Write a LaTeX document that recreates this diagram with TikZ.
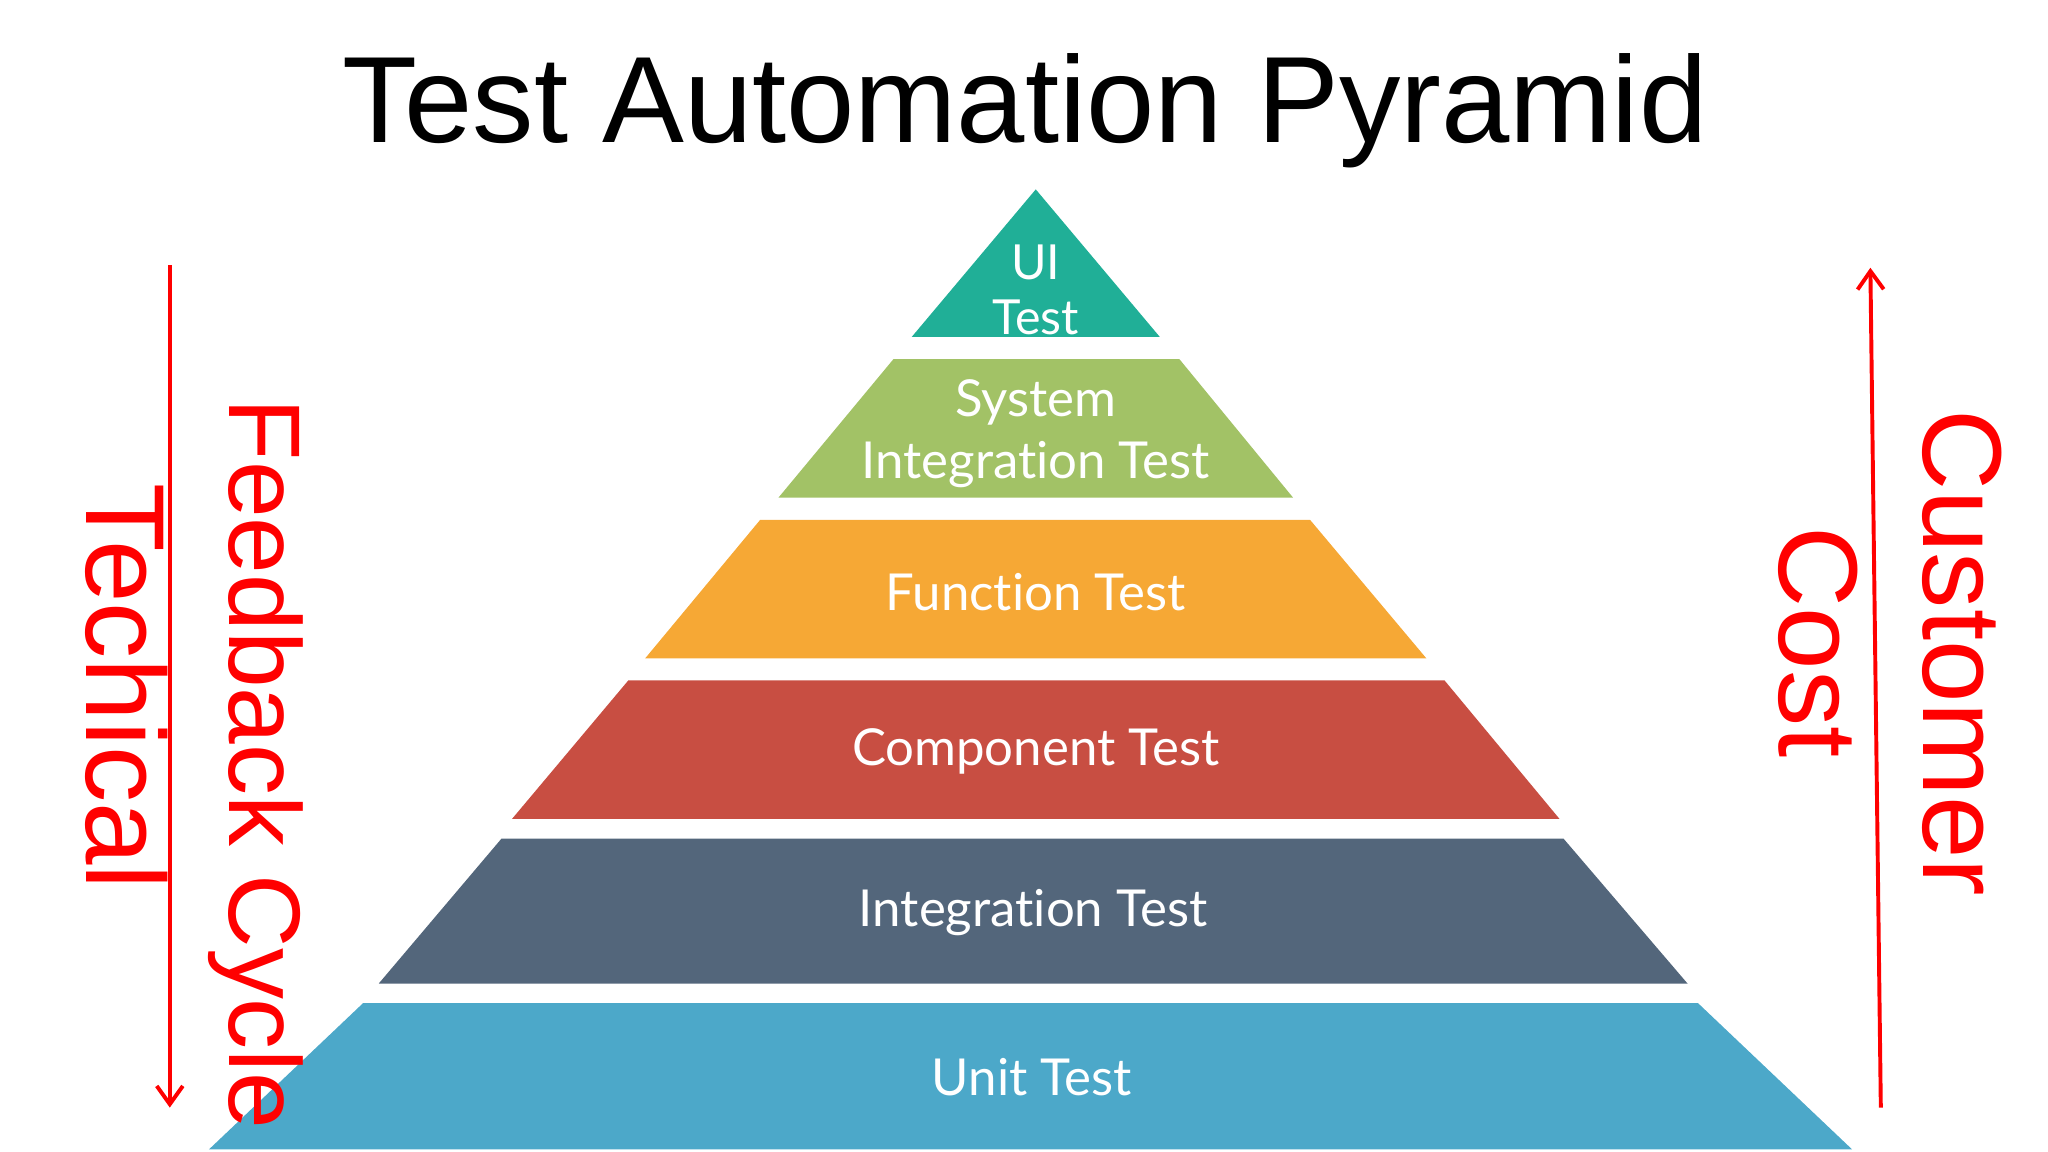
\documentclass[tikz,border=0pt]{standalone}
\usepackage{fontspec}
\setmainfont{Liberation Sans}
\newfontfamily\lab[Ligatures=NoCommon]{Lato}
\usetikzlibrary{arrows.meta}
\definecolor{cui}{HTML}{20AF97}
\definecolor{csys}{HTML}{A2C266}
\definecolor{cfun}{HTML}{F6A835}
\definecolor{ccomp}{HTML}{C84E42}
\definecolor{cint}{HTML}{53667B}
\definecolor{cunit}{HTML}{4CA8C9}
\definecolor{red1}{HTML}{FF0000}
\tikzset{lay/.style={text=white,font=\lab\fontsize{19.5}{24}\selectfont,align=center},
side/.style={text=red1,font=\fontsize{43}{47}\selectfont,rotate=-90,inner sep=0},
redarrow/.style={red1,line width=1.5pt,-{Straight Barb[length=7pt,width=10pt]}}}
\begin{document}
\begin{tikzpicture}[x=0.5pt,y=-0.5pt]
\useasboundingbox (0,0) rectangle (1568,882);
\fill[cui] (793,145) -- (888,258) -- (698,258) -- cycle;
\fill[csys] (684,275) -- (903,275) -- (990,381) -- (596,381) -- cycle;
\fill[cfun] (582,398) -- (1003,398) -- (1092,504) -- (494,504) -- cycle;
\fill[ccomp] (481,521) -- (1106,521) -- (1194,627) -- (392,627) -- cycle;
\fill[cint] (384,642) -- (1197,642) -- (1292,753) -- (290,753) -- cycle;
\fill[cunit] (278,768) -- (1300,768) -- (1418,880) -- (160,880) -- cycle;
\node (title) at (785,85) {\fontsize{47}{53}\selectfont Test Automation Pyramid};
\node[lay,font=\lab\fontsize{18.5}{21}\selectfont] (ui) at (793,222) {UI\\Test};
\node[lay] (sys) at (793,332) {System\\Integration Test};
\node[lay] (fun) at (793,453) {Function Test};
\node[lay] (comp) at (793,575) {Component Test};
\node[lay] (int) at (791,699) {Integration Test};
\node[lay] (unit) at (790,825) {Unit Test};
\coordinate (la) at (130,203); \coordinate (lb) at (130,848);
\coordinate (ra) at (1440,848); \coordinate (rb) at (1432,205);
\draw[redarrow] (la) -- (lb);
\draw[redarrow] (ra) -- (rb);
\node[side,anchor=west,font=\fontsize{39}{43}\selectfont] (fb) at (196,305) {Feedback Cycle};
\node[side,anchor=west] (tech) at (97,370) {Techical};
\node[side,anchor=west] (cust) at (1502,313) {Customer};
\node[side,anchor=west] (cost) at (1392,403) {Cost};
\end{tikzpicture}
\end{document}
